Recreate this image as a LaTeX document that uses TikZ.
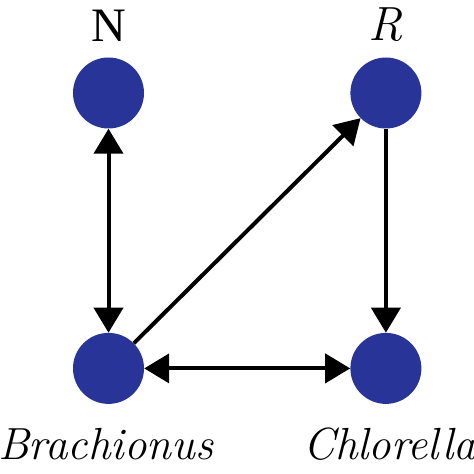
\documentclass[tikz,border=0pt]{standalone}
\usepackage{fontspec}
\setmainfont{Liberation Serif}
\newfontfamily\taxonfont{Latin Modern Roman}
\usepackage{tikz}
\usetikzlibrary{positioning,arrows.meta}
\definecolor{dotblue}{RGB}{40,52,152}

\begin{document}
\begin{tikzpicture}[x=1pt,y=1pt,
	species/.style={circle,fill=dotblue,minimum size=71pt,inner sep=0pt},
	toplabel/.style={inner sep=0pt,font=\fontsize{48}{48}\selectfont},
	botlabel/.style={inner sep=0pt,font=\fontsize{45}{45}\selectfont\taxonfont\itshape},
	link/.style={line width=4pt,arrows={-Triangle[length=25pt,width=29pt]}}]
	\useasboundingbox (0,0) rectangle (474,474);
	\node[species] (N) at (108.5,381) {};
	\node[species,right=206pt of N] (R) {};
	\node[species,below=204pt of N] (brach) {};
	\node[species,below=204pt of R] (chlor) {};
	
	\node[toplabel,above=16pt of N] (Nlab) {N};
	\node[toplabel,above=16pt of R] (Rlab) {\taxonfont\itshape R};
	\node[botlabel,below=24pt of brach,xshift=-3pt] (brachlab) {Brachionus};
	\node[botlabel,below=24pt of chlor,xshift=4pt] (chlorlab) {Chlorella};
	
	\draw[link,{Triangle[length=25pt,width=29pt]}-{Triangle[length=25pt,width=29pt]}] (N) -- (brach);
	\draw[link] (brach) -- (R);
	\draw[link] (R) -- (chlor);
	\draw[link,{Triangle[length=25pt,width=29pt]}-{Triangle[length=25pt,width=29pt]}] (brach) -- (chlor);
\end{tikzpicture}
\end{document}
